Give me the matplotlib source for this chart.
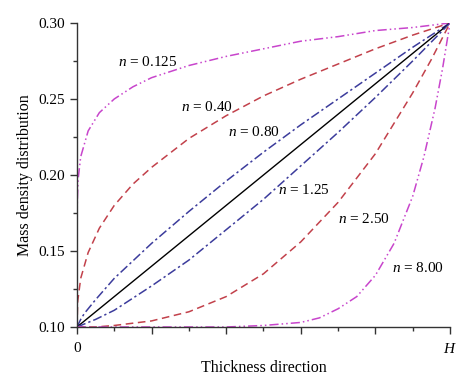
import matplotlib
matplotlib.use("Agg")
import matplotlib.pyplot as plt

plt.rcParams['font.family'] = ['Liberation Serif', 'DejaVu Serif']
plt.rcParams['mathtext.fontset'] = 'custom'
plt.rcParams['mathtext.rm'] = 'Liberation Serif'
plt.rcParams['mathtext.it'] = 'Liberation Serif:italic'

# Values (x as fraction of thickness H)
x_n0125 = [0, 0.0002, 0.001, 0.003, 0.01, 0.03, 0.06, 0.1, 0.15, 0.2, 0.3, 0.4, 0.5, 0.6, 0.7, 0.8, 0.9, 1.0]
y_n0125 = [0.100, 0.169, 0.184, 0.197, 0.212, 0.229, 0.241, 0.250, 0.258, 0.264, 0.272, 0.278, 0.283, 0.288, 0.291, 0.295, 0.297, 0.300]

x_n040 = [0, 0.002, 0.01, 0.03, 0.06, 0.1, 0.15, 0.2, 0.3, 0.4, 0.5, 0.6, 0.7, 0.8, 0.9, 1.0]
y_n040 = [0.100, 0.117, 0.132, 0.149, 0.165, 0.180, 0.194, 0.205, 0.224, 0.239, 0.252, 0.263, 0.273, 0.283, 0.292, 0.300]

x_n080 = [0, 0.01, 0.02, 0.05, 0.1, 0.2, 0.3, 0.4, 0.5, 0.6, 0.7, 0.8, 0.9, 1.0]
y_n080 = [0.100, 0.105, 0.109, 0.118, 0.132, 0.155, 0.176, 0.196, 0.215, 0.233, 0.250, 0.267, 0.284, 0.300]

x_n100 = [0, 1.0]
y_n100 = [0.100, 0.300]

x_n125 = [0, 0.05, 0.1, 0.2, 0.3, 0.4, 0.5, 0.6, 0.7, 0.8, 0.9, 1.0]
y_n125 = [0.100, 0.105, 0.111, 0.127, 0.144, 0.164, 0.184, 0.206, 0.228, 0.251, 0.275, 0.300]

x_n250 = [0, 0.05, 0.1, 0.2, 0.3, 0.4, 0.5, 0.6, 0.7, 0.8, 0.9, 0.95, 1.0]
y_n250 = [0.100, 0.100, 0.101, 0.104, 0.110, 0.120, 0.135, 0.156, 0.182, 0.214, 0.254, 0.276, 0.300]

x_n800 = [0, 0.3, 0.4, 0.5, 0.6, 0.65, 0.7, 0.75, 0.8, 0.85, 0.9, 0.93, 0.96, 0.98, 1.0]
y_n800 = [0.100, 0.100, 0.100, 0.101, 0.103, 0.106, 0.112, 0.120, 0.134, 0.155, 0.186, 0.212, 0.244, 0.270, 0.300]

labels = ['0.125', '0.40', '0.80', '1.25', '2.50', '8.00']
label_x = [0.11, 0.28, 0.405, 0.54, 0.70, 0.845]
label_y = [0.274, 0.245, 0.228, 0.190, 0.171, 0.139]

y_ticks = [0.10, 0.15, 0.20, 0.25, 0.30]
y_ticklabels = ['0.10', '0.15', '0.20', '0.25', '0.30']
x_ticks = [0, 0.2, 0.4, 0.6, 0.8, 1.0]
x_ticklabels = ['0', '', '', '', '', '$H$']

magenta = '#c845cc'
red = '#c2414b'
blue = '#3c3c9c'

fig = plt.figure(figsize=(4.74, 3.89), dpi=100)
ax = fig.add_axes([0.1624, 0.1594, 0.787, 0.7816])

dd = (6, 2, 1, 2, 1, 2)
ax.plot(x_n0125, y_n0125, color=magenta, lw=1.1, dashes=dd)
ax.plot(x_n040, y_n040, color=red, lw=1.1, dashes=(5, 3))
ax.plot(x_n080, y_n080, color=blue, lw=1.1, dashes=(6, 2, 1.5, 2))
ax.plot(x_n100, y_n100, color='black', lw=1.0)
ax.plot(x_n125, y_n125, color=blue, lw=1.1, dashes=(6, 2, 1.5, 2))
ax.plot(x_n250, y_n250, color=red, lw=1.1, dashes=(5, 3))
ax.plot(x_n800, y_n800, color=magenta, lw=1.1, dashes=dd)

for lab, lx, ly in zip(labels, label_x, label_y):
    ax.text(lx, ly, r'$n$ = ' + lab, fontsize=11, ha='left', va='center')

ax.set_xlim(0, 1.0)
ax.set_ylim(0.10, 0.30)
ax.set_yticks(y_ticks)
ax.set_yticklabels(y_ticklabels, fontsize=11)
ax.set_yticks([0.125, 0.175, 0.225, 0.275], minor=True)
ax.set_xticks(x_ticks)
ax.set_xticklabels(x_ticklabels, fontsize=11)
ax.set_xticks([0.1, 0.3, 0.5, 0.7, 0.9], minor=True)

ax.tick_params(which='major', direction='out', length=5, width=1, color='#333333')
ax.tick_params(which='minor', direction='out', length=3, width=1, color='#333333')
ax.tick_params(axis='x', which='major', pad=6)

for s in ['top', 'right']:
    ax.spines[s].set_visible(False)
for s in ['left', 'bottom']:
    ax.spines[s].set_color('#333333')
    ax.spines[s].set_linewidth(1.0)

ax.set_xlabel('Thickness direction', fontsize=11.5, labelpad=3)
ax.set_ylabel('Mass density distribution', fontsize=11.5, labelpad=4)

fig.savefig('out.png', dpi=100)
